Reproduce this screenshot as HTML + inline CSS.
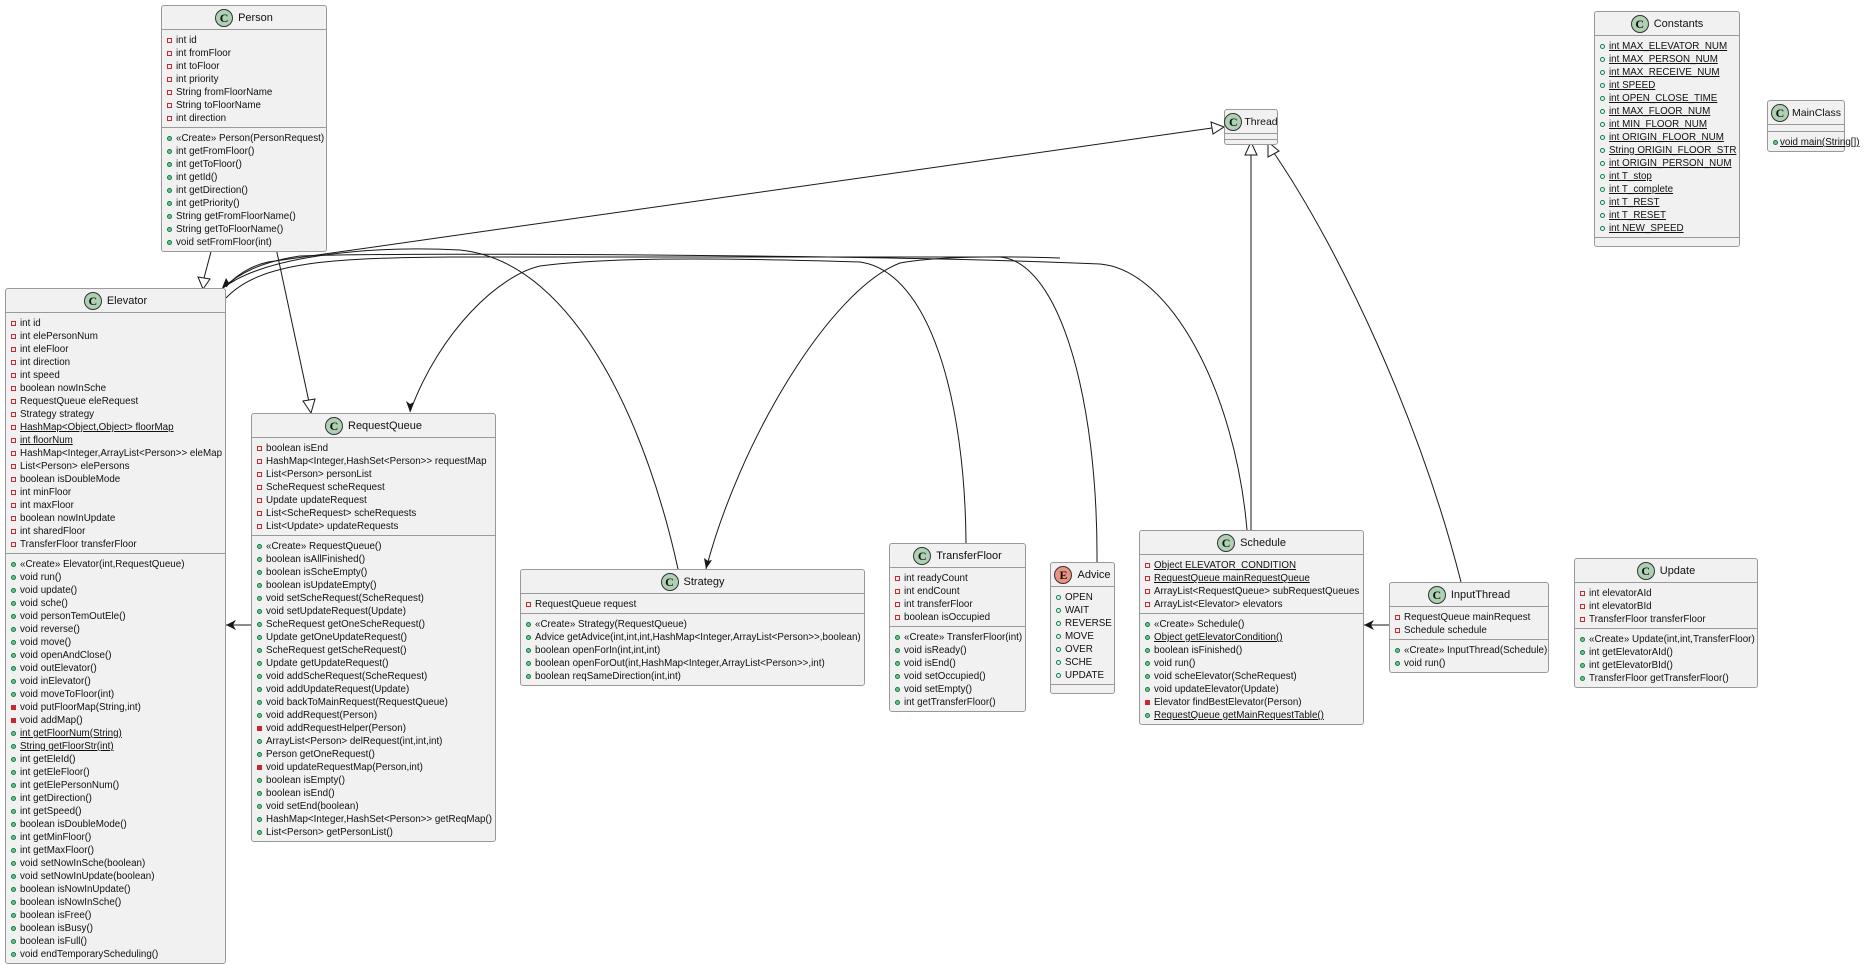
<!DOCTYPE html>
<html><head><meta charset="utf-8"><style>
body{margin:0;width:1865px;height:965px;background:#fff;position:relative;overflow:hidden;font-family:"Liberation Sans",sans-serif;}
.b{position:absolute;background:#F1F1F1;border:1px solid #999;border-radius:3px;font-size:9.8px;color:#111;box-sizing:border-box}
.h{height:23px;display:flex;align-items:center;justify-content:center;border-bottom:1px solid #999;font-size:11px}
.ic{flex-shrink:0;width:18px;height:18px;border-radius:50%;background:#ADD1B2;border:1px solid #333;box-sizing:border-box;font:bold 12px "Liberation Serif",serif;text-align:center;line-height:16px;margin-right:5px}
.ic.e{background:#EB937F}
.s{padding:4px 0 2px;border-bottom:1px solid #999;min-height:2px}
.s:last-child{border-bottom:none}
.r{height:13px;line-height:13px;padding-left:14px;position:relative;white-space:nowrap}
.r::before{content:"";position:absolute;left:5px;top:4px;width:5px;height:5px;box-sizing:border-box}
.p::before{border:1px solid #C82930}
.m::before{background:#C82930}
.u::before{background:#84BE84;border-radius:50%;border:1px solid #038048;}
.o::before{border:1px solid #038048;border-radius:50%}
.un{text-decoration:underline}
svg{position:absolute;left:0;top:0}
</style></head><body>
<svg width="1865" height="965" fill="none" stroke="#181818" stroke-width="1">
<path d="M212,248 L204,278"/><polygon points="198,277 210,279 203,289" fill="#fff"/>
<path d="M276,248 L309,402"/><polygon points="303,401 315,399 311,413" fill="#fff"/>
<path d="M226,287 C235,276 250,266 268,262 L1212,128"/><polygon points="1211,122 1213,134 1224,127" fill="#fff"/>
<path d="M1251,530 L1251,155"/><polygon points="1245,155 1257,155 1251,142" fill="#fff"/>
<path d="M1461,582 C1420,420 1340,250 1274,153"/><polygon points="1268,157 1279,151 1268,142" fill="#fff"/>
<path d="M678,569 C650,440 580,262 460,250 C360,245 262,258 223,288"/>
<path d="M410,412 C440,330 500,275 540,266 C600,258 700,257 860,262 C930,272 965,400 966,543"/>
<path d="M226,298 C260,262 330,258 450,257 L1000,257 C1060,262 1098,400 1097,562"/>
<path d="M1247,530 C1235,390 1170,270 1100,264 C900,255 400,252 300,256 C260,262 238,274 223,288"/>
<path d="M706,569 C740,440 830,290 900,263 C940,256 1000,256 1060,258"/>
<path d="M226,625 L251,625"/><path d="M1364,625 L1389,625"/>
<g fill="#181818" stroke="none">
<polygon points="222,288 226,278 229,283 235,281"/>
<polygon points="410,412 406,401 410,404 414,402"/>
<polygon points="706,569 704,558 708,561 712,560"/>
<polygon points="226,625 236,620 233,625 236,630"/>
<polygon points="1364,625 1374,620 1371,625 1374,630"/>
</g>
</svg>

<div class="b" style="left:161px;top:5px;width:166px">
<div class="h"><span class="ic">C</span>Person</div>
<div class="s"><div class="r p">int id</div><div class="r p">int fromFloor</div><div class="r p">int toFloor</div><div class="r p">int priority</div><div class="r p">String fromFloorName</div><div class="r p">String toFloorName</div><div class="r p">int direction</div></div>
<div class="s"><div class="r u">«Create» Person(PersonRequest)</div><div class="r u">int getFromFloor()</div><div class="r u">int getToFloor()</div><div class="r u">int getId()</div><div class="r u">int getDirection()</div><div class="r u">int getPriority()</div><div class="r u">String getFromFloorName()</div><div class="r u">String getToFloorName()</div><div class="r u">void setFromFloor(int)</div></div>
</div>

<div class="b" style="left:5px;top:288px;width:221px">
<div class="h"><span class="ic">C</span>Elevator</div>
<div class="s"><div class="r p">int id</div><div class="r p">int elePersonNum</div><div class="r p">int eleFloor</div><div class="r p">int direction</div><div class="r p">int speed</div><div class="r p">boolean nowInSche</div><div class="r p">RequestQueue eleRequest</div><div class="r p">Strategy strategy</div><div class="r p"><span class="un">HashMap&lt;Object,Object&gt; floorMap</span></div><div class="r p"><span class="un">int floorNum</span></div><div class="r p">HashMap&lt;Integer,ArrayList&lt;Person&gt;&gt; eleMap</div><div class="r p">List&lt;Person&gt; elePersons</div><div class="r p">boolean isDoubleMode</div><div class="r p">int minFloor</div><div class="r p">int maxFloor</div><div class="r p">boolean nowInUpdate</div><div class="r p">int sharedFloor</div><div class="r p">TransferFloor transferFloor</div></div>
<div class="s"><div class="r u">«Create» Elevator(int,RequestQueue)</div><div class="r u">void run()</div><div class="r u">void update()</div><div class="r u">void sche()</div><div class="r u">void personTemOutEle()</div><div class="r u">void reverse()</div><div class="r u">void move()</div><div class="r u">void openAndClose()</div><div class="r u">void outElevator()</div><div class="r u">void inElevator()</div><div class="r u">void moveToFloor(int)</div><div class="r m">void putFloorMap(String,int)</div><div class="r m">void addMap()</div><div class="r u"><span class="un">int getFloorNum(String)</span></div><div class="r u"><span class="un">String getFloorStr(int)</span></div><div class="r u">int getEleId()</div><div class="r u">int getEleFloor()</div><div class="r u">int getElePersonNum()</div><div class="r u">int getDirection()</div><div class="r u">int getSpeed()</div><div class="r u">boolean isDoubleMode()</div><div class="r u">int getMinFloor()</div><div class="r u">int getMaxFloor()</div><div class="r u">void setNowInSche(boolean)</div><div class="r u">void setNowInUpdate(boolean)</div><div class="r u">boolean isNowInUpdate()</div><div class="r u">boolean isNowInSche()</div><div class="r u">boolean isFree()</div><div class="r u">boolean isBusy()</div><div class="r u">boolean isFull()</div><div class="r u">void endTemporaryScheduling()</div></div>
</div>

<div class="b" style="left:251px;top:413px;width:245px">
<div class="h"><span class="ic">C</span>RequestQueue</div>
<div class="s"><div class="r p">boolean isEnd</div><div class="r p">HashMap&lt;Integer,HashSet&lt;Person&gt;&gt; requestMap</div><div class="r p">List&lt;Person&gt; personList</div><div class="r p">ScheRequest scheRequest</div><div class="r p">Update updateRequest</div><div class="r p">List&lt;ScheRequest&gt; scheRequests</div><div class="r p">List&lt;Update&gt; updateRequests</div></div>
<div class="s"><div class="r u">«Create» RequestQueue()</div><div class="r u">boolean isAllFinished()</div><div class="r u">boolean isScheEmpty()</div><div class="r u">boolean isUpdateEmpty()</div><div class="r u">void setScheRequest(ScheRequest)</div><div class="r u">void setUpdateRequest(Update)</div><div class="r u">ScheRequest getOneScheRequest()</div><div class="r u">Update getOneUpdateRequest()</div><div class="r u">ScheRequest getScheRequest()</div><div class="r u">Update getUpdateRequest()</div><div class="r u">void addScheRequest(ScheRequest)</div><div class="r u">void addUpdateRequest(Update)</div><div class="r u">void backToMainRequest(RequestQueue)</div><div class="r u">void addRequest(Person)</div><div class="r m">void addRequestHelper(Person)</div><div class="r u">ArrayList&lt;Person&gt; delRequest(int,int,int)</div><div class="r u">Person getOneRequest()</div><div class="r m">void updateRequestMap(Person,int)</div><div class="r u">boolean isEmpty()</div><div class="r u">boolean isEnd()</div><div class="r u">void setEnd(boolean)</div><div class="r u">HashMap&lt;Integer,HashSet&lt;Person&gt;&gt; getReqMap()</div><div class="r u">List&lt;Person&gt; getPersonList()</div></div>
</div>

<div class="b" style="left:520px;top:569px;width:345px">
<div class="h"><span class="ic">C</span>Strategy</div>
<div class="s"><div class="r p">RequestQueue request</div></div>
<div class="s"><div class="r u">«Create» Strategy(RequestQueue)</div><div class="r u">Advice getAdvice(int,int,int,HashMap&lt;Integer,ArrayList&lt;Person&gt;&gt;,boolean)</div><div class="r u">boolean openForIn(int,int,int)</div><div class="r u">boolean openForOut(int,HashMap&lt;Integer,ArrayList&lt;Person&gt;&gt;,int)</div><div class="r u">boolean reqSameDirection(int,int)</div></div>
</div>

<div class="b" style="left:889px;top:543px;width:137px">
<div class="h"><span class="ic">C</span>TransferFloor</div>
<div class="s"><div class="r p">int readyCount</div><div class="r p">int endCount</div><div class="r p">int transferFloor</div><div class="r p">boolean isOccupied</div></div>
<div class="s"><div class="r u">«Create» TransferFloor(int)</div><div class="r u">void isReady()</div><div class="r u">void isEnd()</div><div class="r u">void setOccupied()</div><div class="r u">void setEmpty()</div><div class="r u">int getTransferFloor()</div></div>
</div>

<div class="b" style="left:1050px;top:562px;width:65px">
<div class="h"><span class="ic e">E</span>Advice</div>
<div class="s"><div class="r o">OPEN</div><div class="r o">WAIT</div><div class="r o">REVERSE</div><div class="r o">MOVE</div><div class="r o">OVER</div><div class="r o">SCHE</div><div class="r o">UPDATE</div></div>
<div class="s"></div>
</div>

<div class="b" style="left:1139px;top:530px;width:225px">
<div class="h"><span class="ic">C</span>Schedule</div>
<div class="s"><div class="r p"><span class="un">Object ELEVATOR_CONDITION</span></div><div class="r p"><span class="un">RequestQueue mainRequestQueue</span></div><div class="r p">ArrayList&lt;RequestQueue&gt; subRequestQueues</div><div class="r p">ArrayList&lt;Elevator&gt; elevators</div></div>
<div class="s"><div class="r u">«Create» Schedule()</div><div class="r u"><span class="un">Object getElevatorCondition()</span></div><div class="r u">boolean isFinished()</div><div class="r u">void run()</div><div class="r u">void scheElevator(ScheRequest)</div><div class="r u">void updateElevator(Update)</div><div class="r m">Elevator findBestElevator(Person)</div><div class="r u"><span class="un">RequestQueue getMainRequestTable()</span></div></div>
</div>

<div class="b" style="left:1389px;top:582px;width:160px">
<div class="h"><span class="ic">C</span>InputThread</div>
<div class="s"><div class="r p">RequestQueue mainRequest</div><div class="r p">Schedule schedule</div></div>
<div class="s"><div class="r u">«Create» InputThread(Schedule)</div><div class="r u">void run()</div></div>
</div>

<div class="b" style="left:1574px;top:558px;width:184px">
<div class="h"><span class="ic">C</span>Update</div>
<div class="s"><div class="r p">int elevatorAId</div><div class="r p">int elevatorBId</div><div class="r p">TransferFloor transferFloor</div></div>
<div class="s"><div class="r u">«Create» Update(int,int,TransferFloor)</div><div class="r u">int getElevatorAId()</div><div class="r u">int getElevatorBId()</div><div class="r u">TransferFloor getTransferFloor()</div></div>
</div>

<div class="b" style="left:1224px;top:109px;width:54px">
<div class="h" style="font-size:10.5px"><span class="ic" style="margin-right:2px">C</span>Thread</div>
<div class="s" style="padding:0;height:5px"></div><div class="s" style="padding:0;height:4px"></div>
</div>

<div class="b" style="left:1594px;top:11px;width:146px">
<div class="h"><span class="ic">C</span>Constants</div>
<div class="s"><div class="r o un">int MAX_ELEVATOR_NUM</div><div class="r o un">int MAX_PERSON_NUM</div><div class="r o un">int MAX_RECEIVE_NUM</div><div class="r o un">int SPEED</div><div class="r o un">int OPEN_CLOSE_TIME</div><div class="r o un">int MAX_FLOOR_NUM</div><div class="r o un">int MIN_FLOOR_NUM</div><div class="r o un">int ORIGIN_FLOOR_NUM</div><div class="r o un">String ORIGIN_FLOOR_STR</div><div class="r o un">int ORIGIN_PERSON_NUM</div><div class="r o un">int T_stop</div><div class="r o un">int T_complete</div><div class="r o un">int T_REST</div><div class="r o un">int T_RESET</div><div class="r o un">int NEW_SPEED</div></div>
<div class="s"></div>
</div>

<div class="b" style="left:1767px;top:100px;width:78px">
<div class="h" style="font-size:10.5px"><span class="ic" style="margin-right:3px">C</span>MainClass</div>
<div class="s" style="padding:0;height:6px"></div>
<div class="s"><div class="r u un" style="padding-left:12px">void main(String[])</div></div>
</div>
</body></html>
